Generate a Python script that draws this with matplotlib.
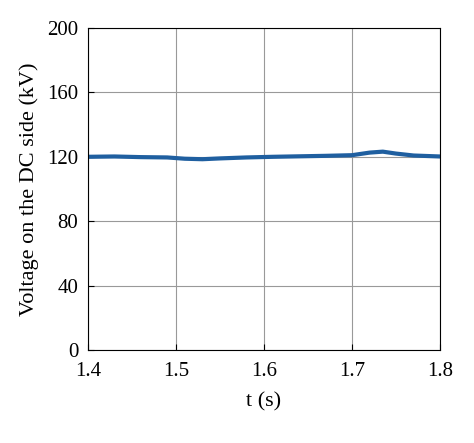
import matplotlib
matplotlib.use("Agg")
import matplotlib.pyplot as plt

t = [1.40, 1.43, 1.46, 1.49, 1.51, 1.53, 1.55, 1.58, 1.61, 1.64, 1.67, 1.70, 1.72, 1.735, 1.75, 1.77, 1.80]
v = [120.0, 120.2, 119.8, 119.6, 118.8, 118.5, 119.0, 119.6, 120.0, 120.3, 120.6, 121.0, 122.6, 123.2, 122.0, 120.8, 120.2]
xticks = [1.4, 1.5, 1.6, 1.7, 1.8]
yticks = [0, 40, 80, 120, 160, 200]

plt.rcParams['font.family'] = ['Liberation Serif', 'DejaVu Serif']
fig = plt.figure(figsize=(4.74, 4.43), dpi=100)
ax = fig.add_axes([88/474, 93/443, 352/474, 322/443])
ax.plot(t, v, color='#1f5fa0', lw=3.0)
ax.set_xlim(1.4, 1.8)
ax.set_ylim(0, 200)
ax.set_xticks(xticks)
ax.set_yticks(yticks)
ax.set_xticklabels([f"{x:.1f}" for x in xticks])
ax.grid(True, color='#999999', lw=0.8)
ax.tick_params(labelsize=15, direction='in', length=4)
ax.tick_params(axis='x', pad=9)
ax.tick_params(axis='y', pad=7)
ax.set_xlabel('t (s)', fontsize=16, labelpad=8)
ax.set_ylabel('Voltage on the DC side (kV)', fontsize=16, labelpad=6)
fig.savefig('out.png', dpi=100)
